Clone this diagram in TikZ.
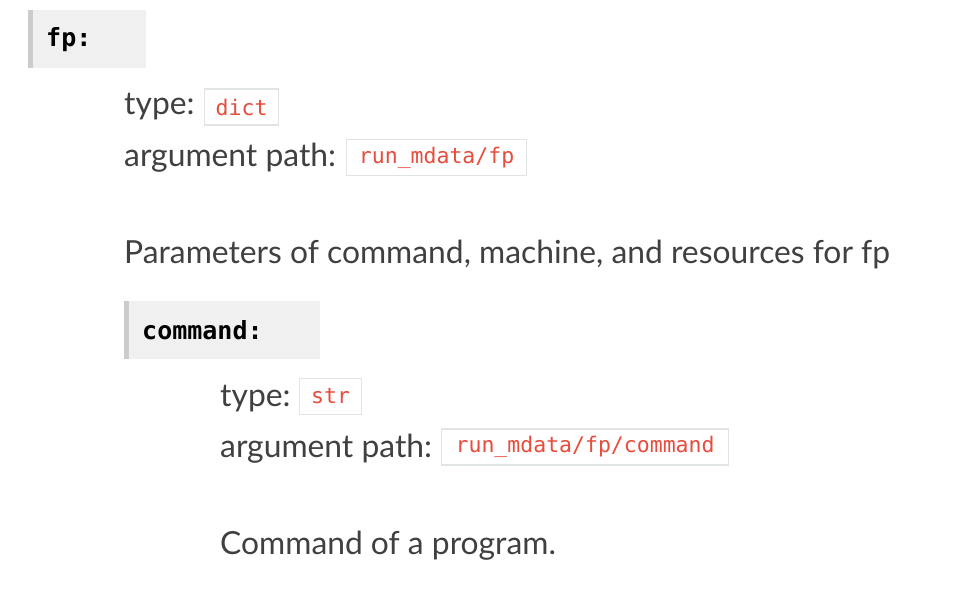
\documentclass[tikz,border=0pt]{standalone}
\usepackage{fontspec}
\setmainfont{Lato}
\newfontfamily\codefont{DejaVu Sans Mono}
\definecolor{txt}{HTML}{404040}
\definecolor{codered}{HTML}{E74C3C}
\definecolor{hdrbg}{HTML}{F0F0F0}
\definecolor{hdrbar}{HTML}{CCCCCC}
\definecolor{codeborder}{HTML}{E1E4E5}
\begin{document}
\begin{tikzpicture}[x=1pt,y=-1pt,
  body/.style={anchor=west,inner sep=0pt,text=txt,font=\fontsize{31.8}{36}\selectfont},
  code/.style={anchor=west,draw=codeborder,line width=1.2pt,fill=white,inner sep=0pt,minimum height=36,text=codered,font=\codefont\fontsize{21.5}{25}\selectfont},
  hdr/.style={anchor=west,inner sep=0pt,font=\codefont\bfseries\fontsize{25}{30}\selectfont,text=black}]
\useasboundingbox (0,0) rectangle (979,611);
% fp header
\fill[hdrbg] (33,10) rectangle (146,68);
\fill[hdrbar] (28,10) rectangle (33,68);
\node[hdr] (fph) at (46,40) {fp:};
\node[body] (t1) at (124,107) {type:};
\node[code,minimum width=74] (c1) at (204,107) {dict};
\node[body] (a1) at (124,158) {argument path:};
\node[code,minimum width=180] (c2) at (346,157.5) {run\_mdata/fp};
\node[body] (p1) at (124,255) {Parameters of command, machine, and resources for fp};
% command header
\fill[hdrbg] (129,301) rectangle (320,359);
\fill[hdrbar] (124,301) rectangle (129,359);
\node[hdr] (cmh) at (142,330) {command:};
\node[body] (t2) at (220,399) {type:};
\node[code,minimum width=62] (c3) at (299,396.5) {str};
\node[body] (a2) at (220,449) {argument path:};
\node[code,minimum width=287] (c4) at (441,447) {run\_mdata/fp/command};
\node[body] (p2) at (220,546) {Command of a program.};
\end{tikzpicture}
\end{document}
